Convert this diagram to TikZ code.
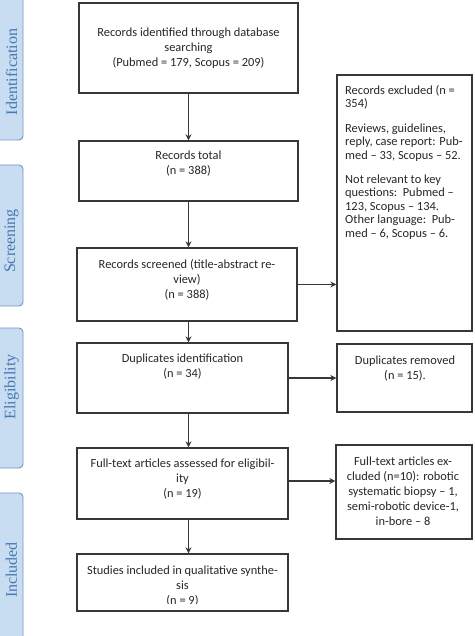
\documentclass[tikz,border=0pt]{standalone}
\usepackage{fontspec}
\setmainfont{Carlito}
\newfontfamily\lblfont{Liberation Serif}
\usetikzlibrary{arrows.meta}
\definecolor{lblfill}{RGB}{200,220,242}
\definecolor{lbldraw}{RGB}{120,150,190}
\definecolor{lbltext}{RGB}{70,120,180}
\definecolor{ln}{RGB}{55,55,55}
\tikzset{
  box/.style={draw=ln, line width=1.3pt, rectangle, inner sep=0pt},
  txt/.style={align=center, inner sep=0pt, font=\fontsize{12.4}{15}\selectfont, text=black!85},
  ltxt/.style={align=left, inner sep=0pt, font=\fontsize{12.4}{13.5}\selectfont, text=black!85},
  arr/.style={draw=ln, line width=1.3pt, -{Stealth[length=6pt,width=6pt]}},
  lbl/.style={draw=lbldraw, fill=lblfill, line width=0.9pt, rounded corners=4pt},
  lbltxt/.style={rotate=90, inner sep=0pt, font=\lblfont\fontsize{16}{16}\selectfont, text=lbltext}
}
\begin{document}
\begin{tikzpicture}[x=1pt,y=-1pt]
\useasboundingbox (0,0) rectangle (474,636);
% side labels
\draw[lbl] (-6,-6) rectangle (23,140);
\draw[lbl] (-6,165) rectangle (23,306);
\draw[lbl] (-6,328) rectangle (23,468);
\draw[lbl] (-6,493) rectangle (23,650);
\node[lbltxt] (l1) at (11.5,72) {Identification};
\node[lbltxt] (l2) at (11.5,241) {Screening};
\node[lbltxt] (l3) at (11.5,387) {Eligibility};
\node[lbltxt] (l4) at (11.5,570) {Included};
% main boxes
\node[box, minimum width=219pt, minimum height=90pt] (b1) at (188.5,48) {};
\node[box, minimum width=219pt, minimum height=60pt] (b2) at (188.5,171) {};
\node[box, minimum width=220pt, minimum height=73pt] (b3) at (187,284.5) {};
\node[box, minimum width=211pt, minimum height=70pt] (b4) at (182.5,378) {};
\node[box, minimum width=211pt, minimum height=71pt] (b5) at (182.5,483.5) {};
\node[box, minimum width=211pt, minimum height=57pt] (b6) at (182.5,582.5) {};
% side boxes
\node[box, minimum width=135pt, minimum height=256pt] (e1) at (404.5,203) {};
\node[box, minimum width=135pt, minimum height=68pt] (e2) at (404.5,378) {};
\node[box, minimum width=136pt, minimum height=94pt] (e3) at (404,492) {};
% texts
\node[txt] (t1) at (188.5,48) {Records identified through database\\searching\\(Pubmed = 179, Scopus = 209)};
\node[txt] (t2) at (188.5,164) {Records total\\(n = 388)};
\node[txt] (t3) at (187,280) {Records screened (title-abstract re-\\view)\\(n = 388)};
\node[txt] (t4) at (182.5,367) {Duplicates identification\\(n = 34)};
\node[txt] (t5) at (182.5,479.5) {Full-text articles assessed for eligibil-\\ity\\(n = 19)};
\begin{scope}
\clip (77,554) rectangle (288,603.5);
\node[txt] (t6) at (182.5,586) {Studies included in qualitative synthe-\\sis\\(n = 9)};
\end{scope}
\node[ltxt, anchor=north west] (s1) at (345,85) {Records excluded (n =\\354)\\[10.8pt]Reviews, guidelines,\\reply, case report: Pub-\\med -- 33, Scopus -- 52.\\[10.8pt]Not relevant to key\\questions:\ \ Pubmed --\\123, Scopus -- 134.\\Other language:\ \ Pub-\\med -- 6, Scopus -- 6.};
\node[txt] (s2) at (405,368.5) {Duplicates removed\\(n = 15).};
\node[txt] (s3) at (403,491.5) {Full-text articles ex-\\cluded (n=10): robotic\\systematic biopsy -- 1,\\semi-robotic device-1,\\in-bore -- 8};
% connectors
\draw[arr] (b1.south) -- (b2.north);
\draw[arr] (b2.south) -- (b3.north -| b2.south);
\draw[arr] (b3.south -| b2.south) -- (b4.north -| b2.south);
\draw[arr] (b4.south -| b2.south) -- (b5.north -| b2.south);
\draw[arr] (b5.south -| b1.south) -- (b6.north -| b1.south);
\draw[arr] (b3.east) -- (b3.east -| e1.west);
\draw[arr] (b4.east) -- (b4.east -| e2.west);
\draw[arr] ([yshift=2.5pt]b5.east) -- ([yshift=2.5pt]b5.east -| e3.west);
\end{tikzpicture}
\end{document}
